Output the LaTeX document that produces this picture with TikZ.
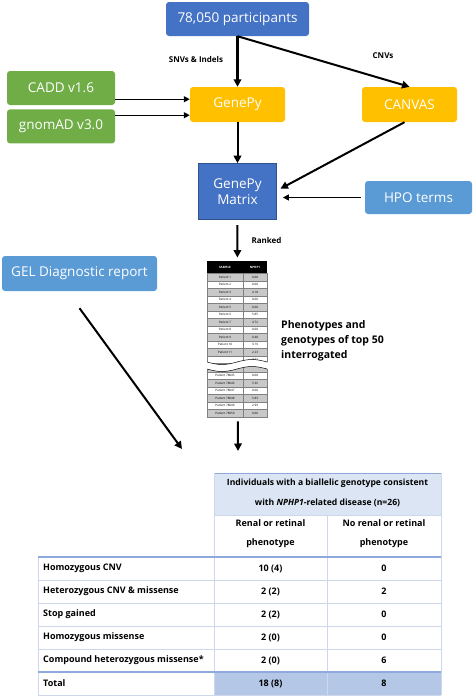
\documentclass[tikz,border=0pt]{standalone}
\usepackage{fontspec}
\setmainfont{Open Sans}
\usepackage{xcolor}
\usetikzlibrary{positioning, arrows.meta}
\definecolor{partblue}{RGB}{68,114,196}
\definecolor{darkblue}{RGB}{47,82,143}
\definecolor{leafgreen}{RGB}{112,173,71}
\definecolor{amber}{RGB}{255,192,0}
\definecolor{skyblue}{RGB}{91,155,213}
\definecolor{hdrfill}{RGB}{220,229,244}
\definecolor{totfill}{RGB}{180,199,231}
\definecolor{rulecol}{RGB}{142,169,219}
\definecolor{faint}{RGB}{205,216,236}
\definecolor{rowgray}{RGB}{200,200,200}

\begin{document}
\begin{tikzpicture}[
    x=1pt, y=-1pt,
    box/.style={
      rectangle,
      rounded corners=3pt,
      text=white,
      inner sep=0pt,
      align=center,
      font=\fontsize{13.5}{16}\selectfont
    },
    arrow/.style={-{Triangle[length=7.5pt,width=7.5pt]}, line width=2pt},
    thinarrow/.style={-{Triangle[length=6pt,width=6pt]}, line width=1.3pt},
    lbl/.style={font=\bfseries\fontsize{8}{9}\selectfont},
    cell/.style={font=\bfseries\fontsize{9}{10}\selectfont, inner sep=0pt},
    mini/.style={font=\fontsize{3}{3}\selectfont, inner sep=0pt}
  ]
    \useasboundingbox (0,0) rectangle (474,697);

    % boxes of the pipeline
    \node[box, fill=partblue, minimum width=143pt, minimum height=34pt] (part) at (237.5,19) {78,050 participants};
    \node[box, fill=leafgreen, minimum width=108pt, minimum height=34pt] (cadd) at (61,88) {CADD v1.6};
    \node[box, fill=leafgreen, minimum width=108pt, minimum height=34pt, below=4pt of cadd] (gnomad) {gnomAD v3.0};
    \node[box, fill=amber, minimum width=95pt, minimum height=35pt] (genepy) at (237.5,104.5) {GenePy};
    \node[box, fill=amber, minimum width=95pt, minimum height=35pt] (canvas) at (409.5,104.5) {CANVAS};
    \node[box, fill=partblue, draw=darkblue, line width=0.8pt, rounded corners=0pt,
      minimum width=78pt, minimum height=56pt, below=41pt of genepy] (matrix) {GenePy\\Matrix};
    \node[box, fill=skyblue, minimum width=107pt, minimum height=33pt] (hpo) at (418.5,197.5) {HPO terms};
    \node[box, fill=skyblue, minimum width=155pt, minimum height=35pt] (gel) at (79.5,273.5) {GEL Diagnostic report};

    % ranked sample list
    \node[minimum width=60pt, minimum height=156.5pt, inner sep=0pt] (rank) at (237.3,339) {};
    \fill[black] (207.3,260.7) rectangle (267.3,273.3);
    \node[mini, text=white, font=\bfseries\fontsize{3}{3}\selectfont] at (225,267) {SAMPLE};
    \node[mini, text=white, font=\bfseries\fontsize{3}{3}\selectfont] at (255,267) {NPHP1};
    \foreach \nm/\val/\col [count=\i] in {Patient 1/0.08/rowgray, Patient 2/0.00/white,
        Patient 3/4.18/rowgray, Patient 4/0.00/white, Patient 5/0.00/rowgray,
        Patient 6/5.85/white, Patient 7/4.72/rowgray, Patient 8/0.00/white,
        Patient 9/0.48/rowgray, Patient 10/3.16/white, Patient 11/2.23/rowgray,
        {}/4.11/white}{
      \pgfmathsetmacro\yt{273.3+(\i-1)*7.5}
      \draw[gray, line width=0.3pt, fill=\col] (207.3,\yt) rectangle (242.7,\yt+7.5);
      \draw[gray, line width=0.3pt, fill=\col] (242.7,\yt) rectangle (267.3,\yt+7.5);
      \node[mini] at (225,\yt+3.75) {\nm};
      \node[mini] at (255,\yt+3.75) {\val};
    }
    \foreach \nm/\val/\col [count=\i] in {Patient 78044/{}/rowgray, Patient 78045/0.00/white,
        Patient 78046/5.36/rowgray, Patient 78047/0.00/white, Patient 78048/5.83/rowgray,
        Patient 78049/2.99/white, Patient 78050/0.00/rowgray}{
      \pgfmathsetmacro\yt{364.5+(\i-1)*7.5}
      \draw[gray, line width=0.3pt, fill=\col] (207.3,\yt) rectangle (242.7,\yt+7.5);
      \draw[gray, line width=0.3pt, fill=\col] (242.7,\yt) rectangle (267.3,\yt+7.5);
      \node[mini] at (225,\yt+3.75) {\nm};
      \node[mini] at (255,\yt+3.75) {\val};
    }
    % torn gap in the list
    \fill[white] plot[domain=206:268.3, samples=31] (\x,{362+2.5*sin(6*(\x-207))})
      -- plot[domain=268.3:206, samples=31] (\x,{369+2.5*sin(6*(\x-207))}) -- cycle;
    \draw[line width=0.5pt] plot[domain=207.3:267.3, samples=31] (\x,{362+2.5*sin(6*(\x-207))});
    \draw[line width=0.5pt] plot[domain=207.3:267.3, samples=31] (\x,{369+2.5*sin(6*(\x-207))});

    \node[font=\bfseries\fontsize{10.5}{15}\selectfont, align=left, anchor=west, inner sep=0pt] (pheno) at (281,341)
      {Phenotypes and\\genotypes of top 50\\interrogated};

    % connectors
    \coordinate (rankend) at (238,451);
    \coordinate (gelend) at (182,449);
    \draw[arrow, line width=2.4pt] (part) -- (genepy);
    \node[lbl] (snv) at (196,59) {SNVs \& Indels};
    \draw[arrow] (part.south) -- (canvas.north);
    \node[lbl] (cnvs) at (383,56) {CNVs};
    \draw[thinarrow] ([yshift=6pt]cadd.south east) -- ([yshift=6pt]cadd.south east -| genepy.west);
    \draw[thinarrow] ([yshift=-6pt]gnomad.north east) -- ([yshift=-6pt]gnomad.north east -| genepy.west);
    \draw[arrow] (genepy) -- (matrix);
    \draw[arrow, shorten >=4pt] ([xshift=-5pt]canvas.south) -- ([yshift=1pt]matrix.east);
    \draw[thinarrow, shorten >=6pt, shorten <=4pt] (hpo.west) -- (hpo.west -| matrix.east);
    \draw[arrow, shorten <=5pt, shorten >=3pt] (matrix) -- (rank);
    \node[lbl, anchor=west] (ranked) at (248,240) {Ranked};
    \draw[arrow, shorten <=4pt] (rank) -- (rankend);
    \draw[arrow] ([yshift=-17pt]gel.south) -- (gelend);

    % summary table
    \fill[hdrfill] (214,473) rectangle (441,515);
    \fill[totfill] (214,672) rectangle (441,695);
    \draw[rulecol, line width=0.8pt] (214,473) -- (441,473);
    \draw[faint, line width=0.6pt] (214,515) -- (441,515);
    \draw[faint, line width=0.6pt] (214,473) -- (214,695);
    \draw[faint, line width=0.6pt] (441,473) -- (441,695);
    \draw[faint, line width=0.6pt] (327,515) -- (327,695);
    \draw[faint, line width=0.6pt] (38,557) -- (38,695);
    \foreach \yy in {580,603,626,649,695}
      \draw[faint, line width=0.6pt] (38,\yy) -- (441,\yy);
    \draw[rulecol, line width=1.2pt] (38,557) -- (441,557);
    \draw[rulecol, line width=1.2pt] (38,672) -- (441,672);

    \node[cell, font=\bfseries\fontsize{8.6}{10}\selectfont] (hdra) at (327.5,483) {Individuals with a biallelic genotype consistent};
    \node[cell, font=\bfseries\fontsize{8.6}{10}\selectfont] (hdrb) at (327.5,503) {with \textit{NPHP1}-related disease (n=26)};
    \node[cell] (colaa) at (270.5,523) {Renal or retinal};
    \node[cell] (colab) at (270.5,543) {phenotype};
    \node[cell] (colba) at (384,523) {No renal or retinal};
    \node[cell] (colbb) at (384,543) {phenotype};
    \foreach \lab/\aa/\bb [count=\i] in {Homozygous CNV/10 (4)/0,
        Heterozygous CNV \& missense/2 (2)/2, Stop gained/2 (2)/0,
        Homozygous missense/2 (0)/0, Compound heterozygous missense*/2 (0)/6,
        Total/18 (8)/8}{
      \pgfmathsetmacro\yr{557+23*(\i-0.5)}
      \node[cell, anchor=west] (lab\i) at (43,\yr) {\lab};
      \node[cell] (vala\i) at (270.5,\yr) {\aa};
      \node[cell] (valb\i) at (384,\yr) {\bb};
    }
  \end{tikzpicture}
\end{document}
